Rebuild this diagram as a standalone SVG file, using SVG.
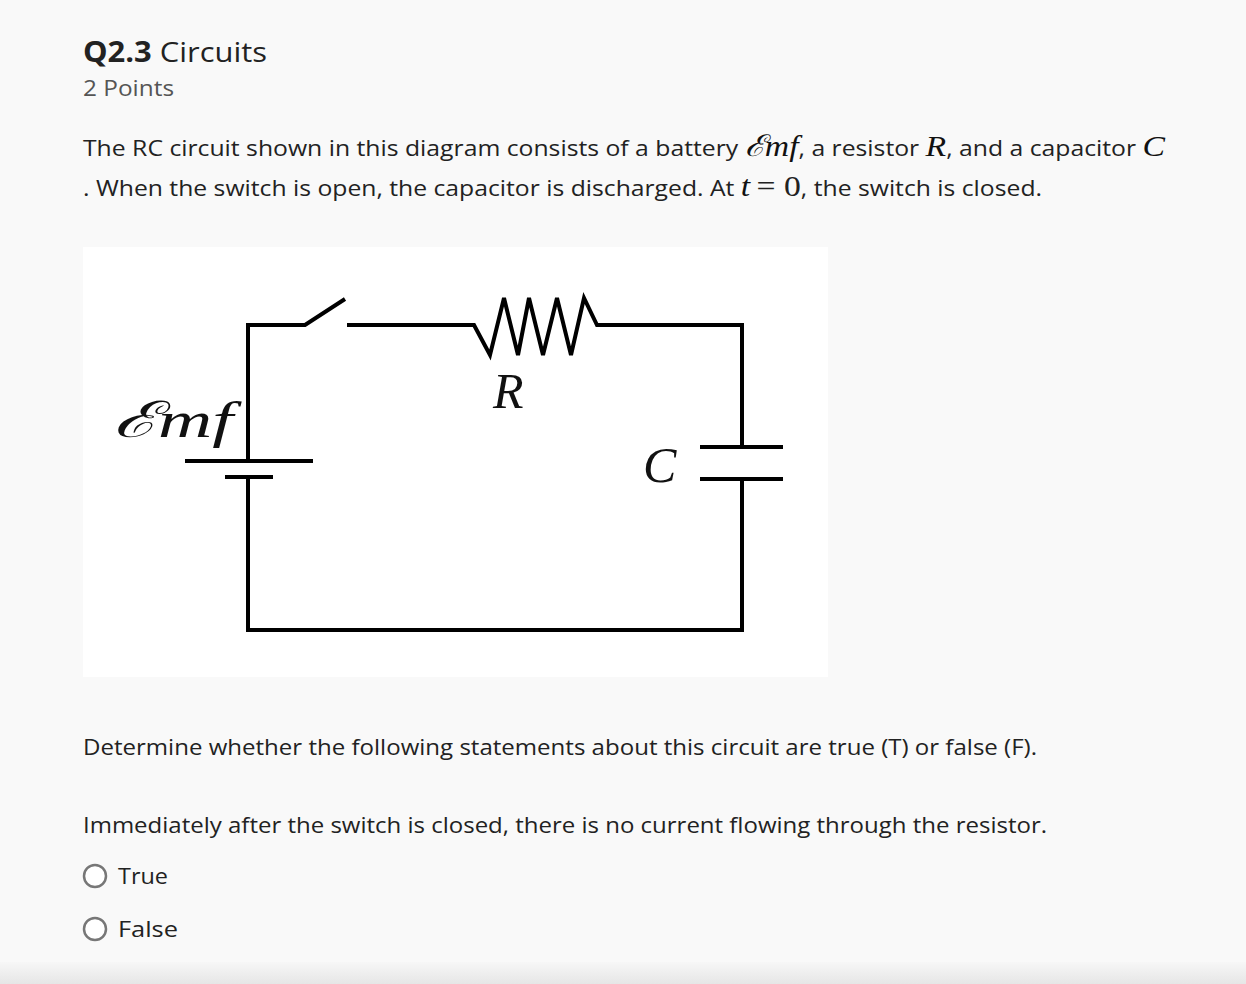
<svg xmlns="http://www.w3.org/2000/svg" width="1246" height="984" viewBox="0 0 1246 984">
<defs>
<style>
.t{font-family:"Open Sans",Lato,sans-serif;fill:#222}
.m{font-family:"Liberation Serif","DejaVu Serif",serif;font-style:italic;fill:#111}
.w{fill:none;stroke:#000;stroke-width:4;stroke-linejoin:miter}
</style>
<linearGradient id="g" x1="0" y1="0" x2="0" y2="1"><stop offset="0" stop-color="#f7f7f7"/><stop offset="1" stop-color="#e6e6e6"/></linearGradient>
</defs>
<rect width="1246" height="984" fill="#f9f9f9"/>
<rect y="962" width="1246" height="22" fill="url(#g)"/>
<text class="t" x="83" y="62" font-size="28" textLength="184" lengthAdjust="spacingAndGlyphs"><tspan font-weight="bold">Q2.3</tspan> Circuits</text>
<text class="t" x="83" y="96" font-size="22" style="fill:#555" textLength="91" lengthAdjust="spacingAndGlyphs">2 Points</text>
<text class="t" x="83" y="156" font-size="22" textLength="1082" lengthAdjust="spacingAndGlyphs">The RC circuit shown in this diagram consists of a battery <tspan class="m" font-size="30">ℰmf</tspan>, a resistor <tspan class="m" font-size="30">R</tspan>, and a capacitor <tspan class="m" font-size="30">C</tspan></text>
<text class="t" x="83" y="196" font-size="22" textLength="959" lengthAdjust="spacingAndGlyphs">. When the switch is open, the capacitor is discharged. At <tspan class="m" font-size="30">t</tspan> <tspan font-family="Liberation Serif" font-size="30">= 0</tspan>, the switch is closed.</text>
<rect x="83" y="247" width="745" height="430" fill="#fff"/>
<g id="circuit">
<polyline class="w" points="248,461 248,325 305,325 345,299"/>
<polyline class="w" points="347,325 474,325 490,355 504,298 518,355 529,298 543,355 557,298 571,355 584,298 597,325 742,325 742,447"/>
<polyline class="w" points="742,479 742,630 248,630 248,477"/>
<line class="w" x1="185" y1="461" x2="313" y2="461"/>
<line class="w" x1="225" y1="477" x2="273" y2="477"/>
<line class="w" x1="700" y1="447" x2="783" y2="447"/>
<line class="w" x1="700" y1="479" x2="783" y2="479"/>
</g>
<g id="labels">
<text class="m" x="113" y="437" font-size="50" textLength="120" lengthAdjust="spacingAndGlyphs">ℰmf</text>
<text class="m" x="493" y="408" font-size="50">R</text>
<text class="m" x="643" y="482" font-size="50">C</text>
</g>
<text class="t" x="83" y="755" font-size="22" textLength="954" lengthAdjust="spacingAndGlyphs">Determine whether the following statements about this circuit are true (T) or false (F).</text>
<text class="t" x="83" y="833" font-size="22" textLength="964" lengthAdjust="spacingAndGlyphs">Immediately after the switch is closed, there is no current flowing through the resistor.</text>
<circle cx="95" cy="876" r="11" fill="#fff" stroke="#777" stroke-width="2.5"/>
<text class="t" x="118" y="884" font-size="22" textLength="50" lengthAdjust="spacingAndGlyphs">True</text>
<circle cx="95" cy="929" r="11" fill="#fff" stroke="#777" stroke-width="2.5"/>
<text class="t" x="118" y="937" font-size="22" textLength="60" lengthAdjust="spacingAndGlyphs">False</text>
</svg>
